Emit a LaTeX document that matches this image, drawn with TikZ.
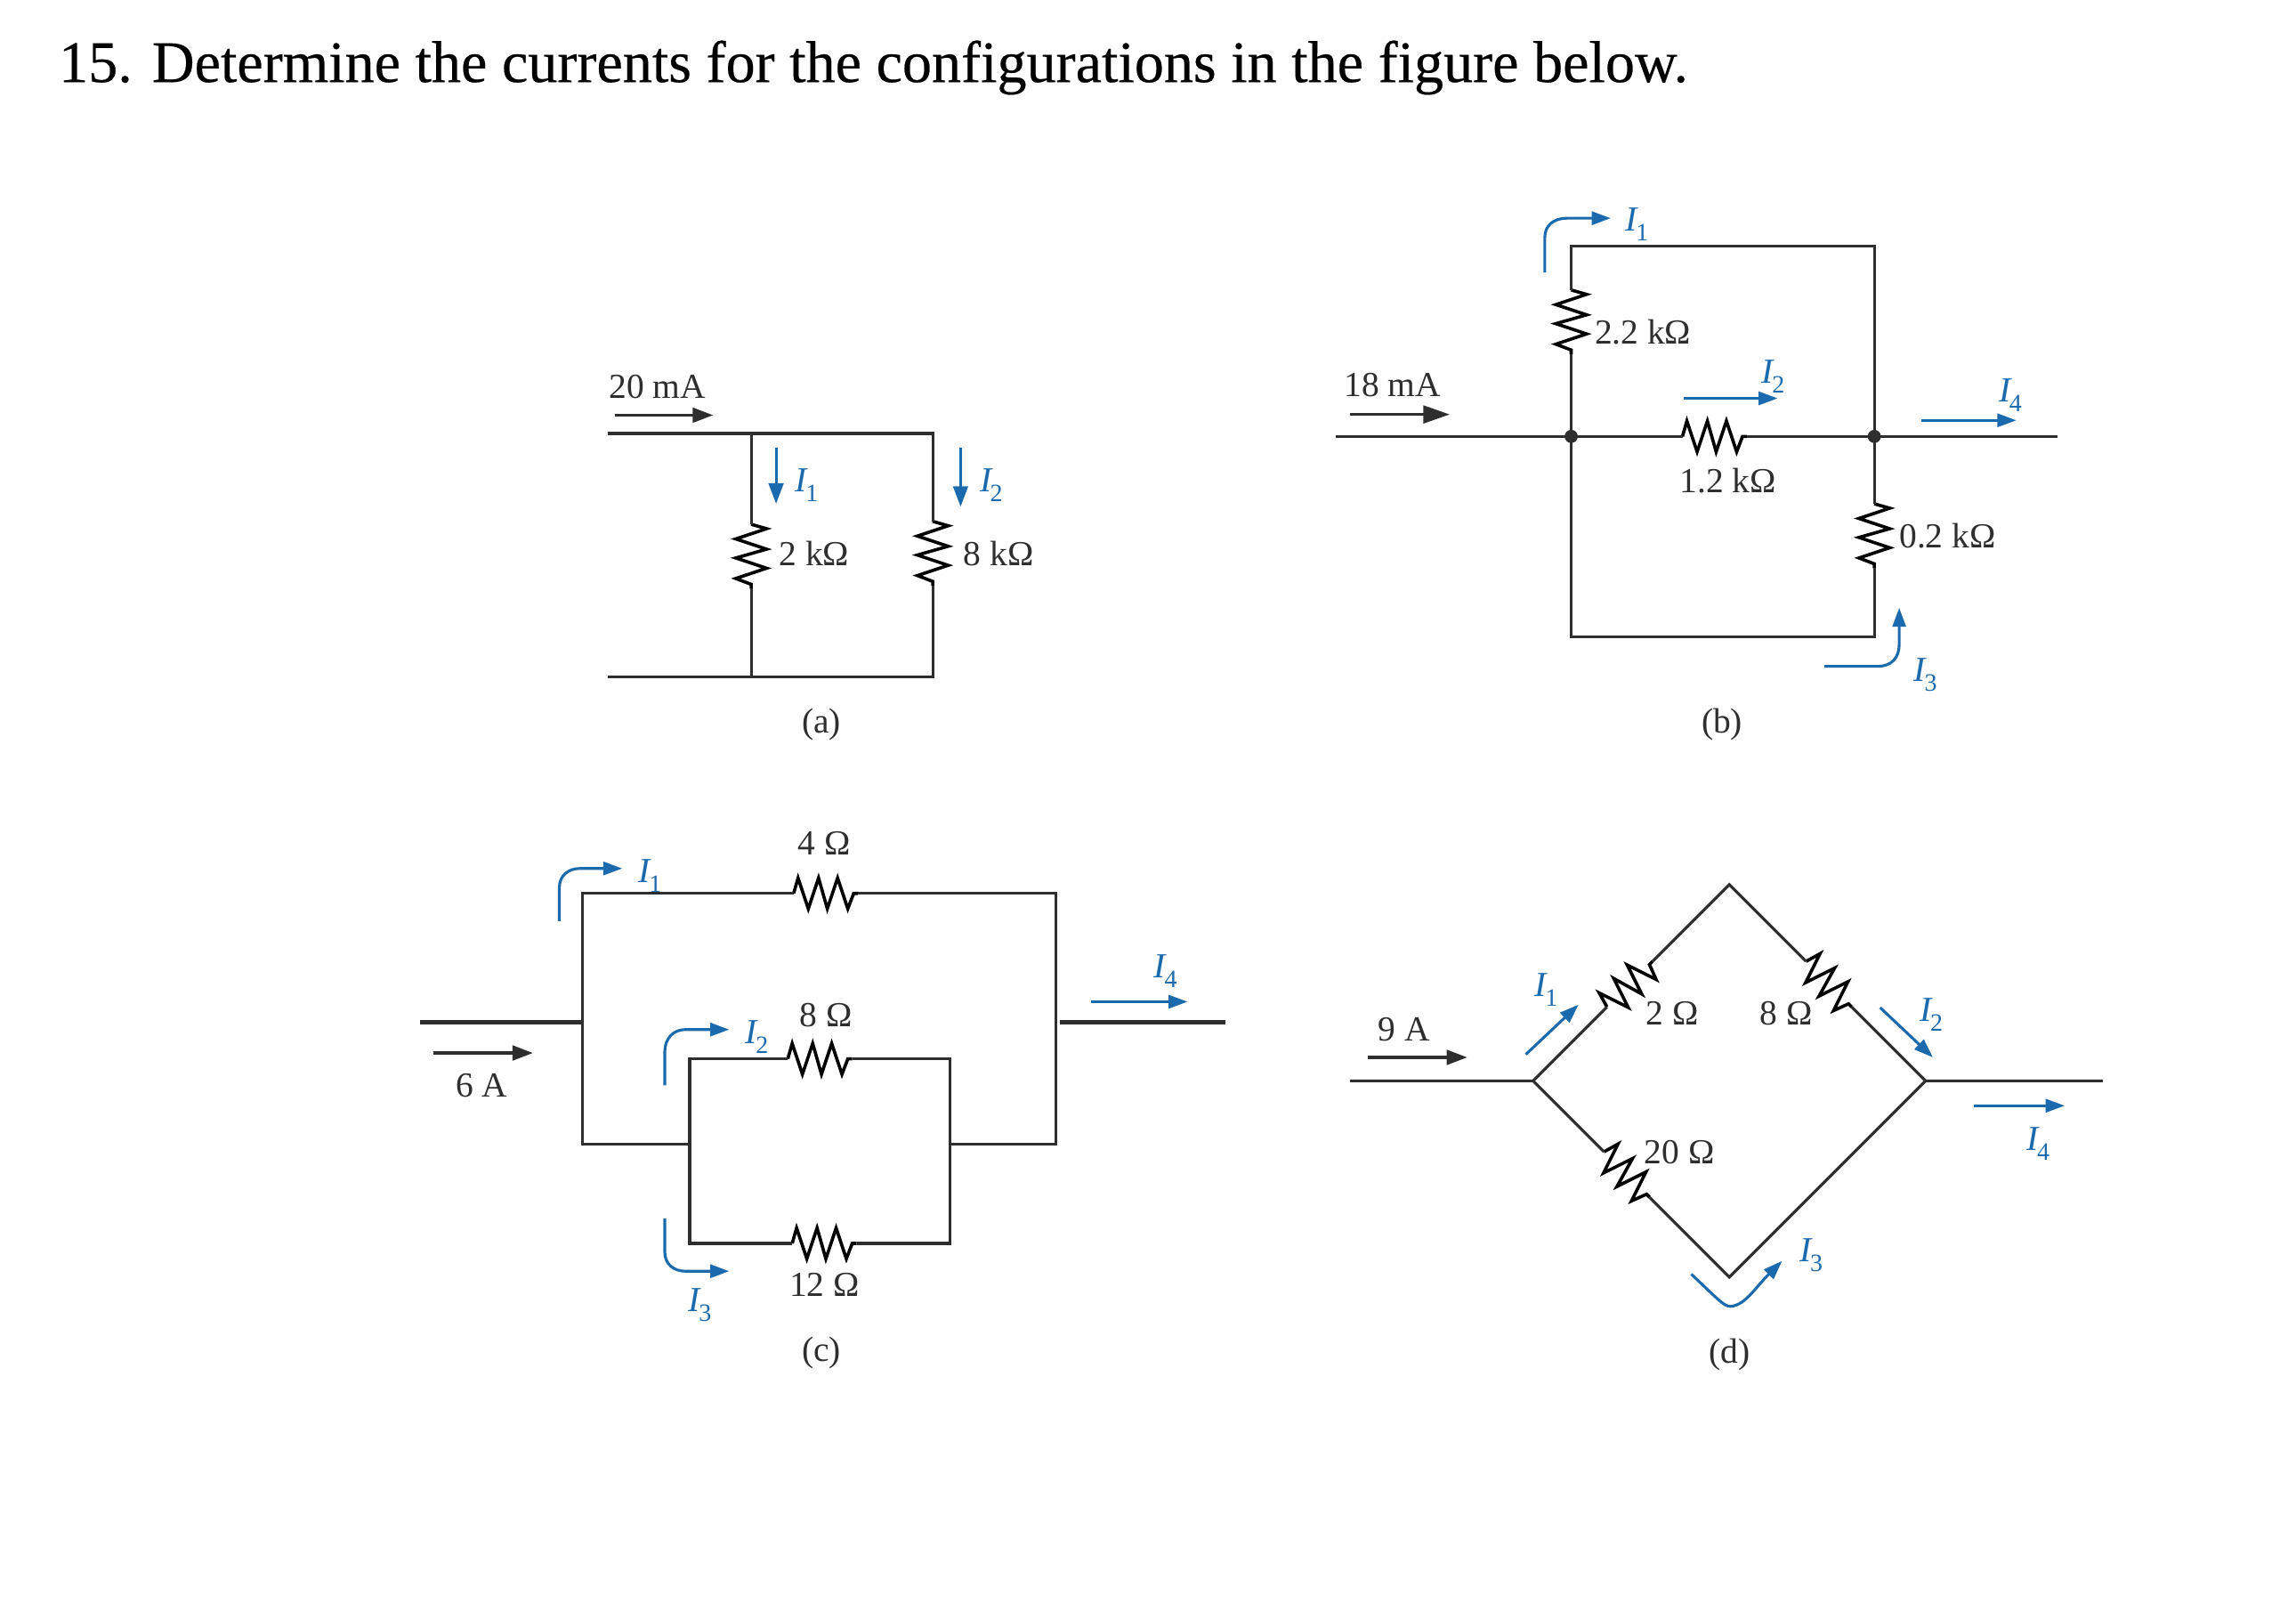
\documentclass[tikz,border=0pt]{standalone}
\usepackage{fontspec}
\setmainfont{Liberation Serif}
\usetikzlibrary{arrows.meta}
\definecolor{curblue}{HTML}{1B6AAE}
\definecolor{ink}{HTML}{2E2E2E}
\newfontfamily\titlefont[FakeBold=0.35]{Liberation Serif}
\newcommand{\Ilab}[1]{{\itshape I}\kern-0.04em\raisebox{-0.28em}{\fontsize{17}{17}\selectfont #1}}
\tikzset{
  wire/.style={draw=ink,line width=1.9pt,line join=miter},
  heavy/.style={draw=ink,line width=2.6pt},
  flow/.style={draw=ink,line width=2pt,-{Triangle[length=14pt,width=10pt]}},
  cur/.style={draw=curblue,line width=1.9pt,-{Triangle[length=13pt,width=9pt]}},
  val/.style={inner sep=0pt,text=ink,font=\fontsize{24}{24}\selectfont},
  caption/.style={val,yshift=-2pt},
  ilabel/.style={inner sep=0pt,text=curblue,xshift=2pt,yshift=-2pt,font=\fontsize{24}{24}\selectfont},
  dot/.style={circle,fill=ink,inner sep=0pt,minimum size=9pt},
  pics/resistor/.style={code={
    \draw[draw=black,line width=2.2pt,line join=miter]
      (-22,0) coordinate (-a) -- (-19,-10.5) -- (-12,10.5) -- (-5,-10.5) -- (1,10.5) -- (8,-10.5) -- (15,10.5) -- (19,0) -- (22,0) coordinate (-b);
  }}
}
\begin{document}
\begin{tikzpicture}[x=1pt,y=-1pt]
\useasboundingbox (0,0) rectangle (1568,1094);
\fill[white] (0,0) rectangle (1568,1094);

\node[inner sep=0pt,anchor=base west,text=black,font=\titlefont\fontsize{40.2}{40.2}\selectfont] (title) at (40,56)
  {15. Determine the currents for the configurations in the figure below.};

% ---------- (a)
\coordinate (aTL) at (415,296);
\coordinate (aT1) at (513,296);
\coordinate (aT2) at (637,296);
\coordinate (aBL) at (415,462);
\coordinate (aB1) at (513,462);
\coordinate (aB2) at (637,462);
\pic (aR1) at (513,380) [rotate=-90] {resistor};
\pic (aR2) at (637,378) [rotate=-90] {resistor};
\draw[wire] (aTL) -- (aT2) -- (aR2-a);
\draw[wire] (aR2-b) -- (aB2) -- (aBL);
\draw[wire] (aT1) -- (aR1-a);
\draw[wire] (aR1-b) -- (aB1);
\node[val] (a20) at (449,264) {20 mA};
\coordinate (aFs) at (420,283.5);
\coordinate (aFe) at (487,283.5);
\draw[flow] (aFs) -- (aFe);
\coordinate (aI1s) at (530,306);
\coordinate (aI1e) at (530,344);
\draw[cur,-{Triangle[length=14pt,width=10pt]}] (aI1s) -- (aI1e);
\coordinate (aI2s) at (656,306);
\coordinate (aI2e) at (656,346);
\draw[cur,-{Triangle[length=14pt,width=10pt]}] (aI2s) -- (aI2e);
\node[ilabel] (aI1) at (549,329) {\Ilab{1}};
\node[ilabel] (aI2) at (675,329) {\Ilab{2}};
\node[val] (aV1) at (556,378) {2 kΩ};
\node[val] (aV2) at (682,378) {8 kΩ};
\node[caption] (aCap) at (561,493) {(a)};

% ---------- (b)
\coordinate (bTL) at (1073,168);
\coordinate (bTR) at (1280,168);
\coordinate (bBL) at (1073,435);
\coordinate (bBR) at (1280,435);
\coordinate (bIn) at (912,298);
\coordinate (bOut) at (1405,298);
\node[dot] (bJ1) at (1073,298) {};
\node[dot] (bJ2) at (1280,298) {};
\pic (bR1) at (1073,220) [rotate=-90] {resistor};
\pic (bR2) at (1171,298) {resistor};
\pic (bR3) at (1280,366) [rotate=-90] {resistor};
\draw[wire] (bR1-a) -- (bTL) -- (bTR) -- (bJ2.center);
\draw[wire] (bR1-b) -- (bJ1.center);
\draw[wire] (bIn) -- (bJ1.center) -- (bR2-a);
\draw[wire] (bR2-b) -- (bJ2.center) -- (bOut);
\draw[wire] (bJ2.center) -- (bR3-a);
\draw[wire] (bR3-b) -- (bBR) -- (bBL) -- (bJ1.center);
\node[val] (b18) at (951,263) {18 mA};
\coordinate (bFs) at (922,283);
\coordinate (bFe) at (990,283);
\draw[flow,-{Triangle[length=18pt,width=12pt]}] (bFs) -- (bFe);
\coordinate (bI1s) at (1055,186);
\coordinate (bI1e) at (1100,149);
\draw[cur] (bI1s) -- (1055,162) .. controls (1055,154) and (1061,149) .. (1070,149) -- (bI1e);
\coordinate (bI2s) at (1150,272);
\coordinate (bI2e) at (1214,272);
\draw[cur] (bI2s) -- (bI2e);
\coordinate (bI4s) at (1312,287);
\coordinate (bI4e) at (1377,287);
\draw[cur] (bI4s) -- (bI4e);
\coordinate (bI3s) at (1246,455);
\coordinate (bI3e) at (1297,415);
\draw[cur] (bI3s) -- (1282,455) .. controls (1292,455) and (1297,449) .. (1297,440) -- (bI3e);
\node[ilabel] (bI1) at (1116,151) {\Ilab{1}};
\node[ilabel] (bI2) at (1209,255) {\Ilab{2}};
\node[ilabel] (bI3) at (1313,459) {\Ilab{3}};
\node[ilabel] (bI4) at (1371,268) {\Ilab{4}};
\node[val] (bV1) at (1122,227) {2.2 kΩ};
\node[val] (bV2) at (1180,328) {1.2 kΩ};
\node[val] (bV3) at (1330,366) {0.2 kΩ};
\node[caption] (bCap) at (1176,493) {(b)};

% ---------- (c)
\coordinate (cIn) at (287,698);
\coordinate (cL) at (398,698);
\coordinate (cR) at (724,698);
\coordinate (cOut) at (837,698);
\coordinate (cTL) at (398,610);
\coordinate (cTR) at (721,610);
\coordinate (cLL) at (398,781);
\coordinate (cLR) at (721,781);
\coordinate (cIL) at (471,781);
\coordinate (cIR) at (649,781);
\coordinate (cITL) at (471,723);
\coordinate (cITR) at (649,723);
\coordinate (cIBL) at (471,849);
\coordinate (cIBR) at (649,849);
\pic (cR1) at (564,610) {resistor};
\pic (cR2) at (560,723) {resistor};
\pic (cR3) at (563,849) {resistor};
\draw[heavy] (cIn) -- (cL);
\draw[heavy] (cR) -- (cOut);
\draw[wire] (cR1-a) -- (cTL) -- (cLL) -- (cIL);
\draw[wire] (cR1-b) -- (cTR) -- (cLR) -- (cIR);
\draw[wire] (cR2-a) -- (cITL) -- (cIBL) -- (cR3-a);
\draw[wire] (cR2-b) -- (cITR) -- (cIBR) -- (cR3-b);
\coordinate (cFs) at (296,719);
\coordinate (cFe) at (364,719);
\draw[flow] (cFs) -- (cFe);
\node[val] (c6) at (329,741) {6 A};
\coordinate (cI1s) at (382,629);
\coordinate (cI1e) at (425,593);
\draw[cur] (cI1s) -- (382,606) .. controls (382,598) and (388,593) .. (396,593) -- (cI1e);
\coordinate (cI2s) at (454,741);
\coordinate (cI2e) at (498,703);
\draw[cur] (cI2s) -- (454,718) .. controls (454,709) and (460,703) .. (468,703) -- (cI2e);
\coordinate (cI3s) at (454,832);
\coordinate (cI3e) at (498,868);
\draw[cur] (cI3s) -- (454,855) .. controls (454,863) and (460,868) .. (468,868) -- (cI3e);
\coordinate (cI4s) at (745,684);
\coordinate (cI4e) at (811,684);
\draw[cur] (cI4s) -- (cI4e);
\node[ilabel] (cI1) at (442,596) {\Ilab{1}};
\node[ilabel] (cI2) at (515,706) {\Ilab{2}};
\node[ilabel] (cI3) at (476,889) {\Ilab{3}};
\node[ilabel] (cI4) at (794,661) {\Ilab{4}};
\node[val] (cV1) at (563,576) {4 Ω};
\node[val] (cV2) at (564,693) {8 Ω};
\node[val] (cV3) at (563,877) {12 Ω};
\node[caption] (cCap) at (561,922) {(c)};

% ---------- (d)
\coordinate (dL) at (1047,738);
\coordinate (dT) at (1181,604);
\coordinate (dR) at (1315,738);
\coordinate (dB) at (1181,872);
\coordinate (dIn) at (922,738);
\coordinate (dOut) at (1436,738);
\pic (dR1) at (1113,672) [rotate=45] {resistor};
\pic (dR2) at (1249,672) [rotate=-45] {resistor};
\pic (dR3) at (1111,802) [rotate=-45] {resistor};
\draw[wire] (dIn) -- (dL) -- (dR1-a);
\draw[wire] (dR1-b) -- (dT) -- (dR2-a);
\draw[wire] (dR2-b) -- (dR) -- (dOut);
\draw[wire] (dL) -- (dR3-a);
\draw[wire] (dR3-b) -- (dB) -- (dR);
\coordinate (dFs) at (934,722);
\coordinate (dFe) at (1002,722);
\draw[flow] (dFs) -- (dFe);
\node[val] (d9) at (959,703) {9 A};
\coordinate (dI1s) at (1042,720);
\coordinate (dI1e) at (1078,686);
\draw[cur] (dI1s) -- (dI1e);
\coordinate (dI2s) at (1284,688);
\coordinate (dI2e) at (1320,722);
\draw[cur] (dI2s) -- (dI2e);
\coordinate (dI3s) at (1155,870);
\coordinate (dI3e) at (1217,861);
\draw[cur] (dI3s) .. controls (1170,884) and (1178,893) .. (1182,892) .. controls (1192,891) and (1198,880) .. (dI3e);
\coordinate (dI4s) at (1348,755);
\coordinate (dI4e) at (1410,755);
\draw[cur] (dI4s) -- (dI4e);
\node[ilabel] (dI1) at (1054,674) {\Ilab{1}};
\node[ilabel] (dI2) at (1317,691) {\Ilab{2}};
\node[ilabel] (dI3) at (1235,855) {\Ilab{3}};
\node[ilabel] (dI4) at (1390,779) {\Ilab{4}};
\node[val] (dV1) at (1142,692) {2 Ω};
\node[val] (dV2) at (1220,692) {8 Ω};
\node[val] (dV3) at (1147,787) {20 Ω};
\node[caption] (dCap) at (1181,923) {(d)};
\end{tikzpicture}
\end{document}
